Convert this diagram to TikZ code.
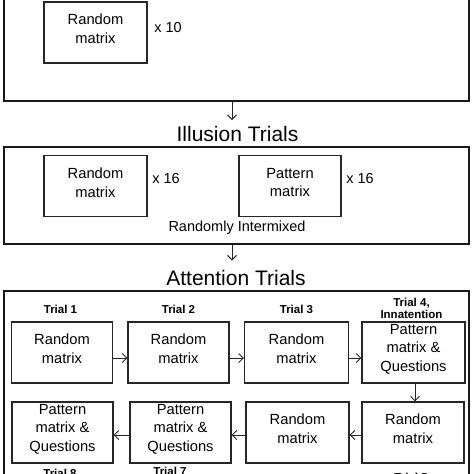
\documentclass[tikz,border=0pt]{standalone}
\usepackage{fontspec}
\setmainfont{Liberation Sans}
\usetikzlibrary{arrows.meta}
\newcommand\trialbox[5]{%
  \node[ibox, minimum width=#4] (#1) at (#2,#3) {};
  \node[btext] (#1t) at ([yshift=3.5pt]#1.center) {#5};}
\begin{document}
\begin{tikzpicture}[x=1pt,y=-1pt,
  outer/.style={draw=black!90, line width=1.8pt, minimum width=465pt, inner sep=0pt},
  ibox/.style={draw=black!85, line width=1.1pt, minimum height=61pt, inner sep=0pt},
  btext/.style={align=center, font=\fontsize{14.7}{18.6}\selectfont, inner sep=0pt},
  small/.style={font=\fontsize{14.5}{17}\selectfont, inner sep=0pt},
  title/.style={font=\fontsize{21}{24}\selectfont, inner sep=1pt},
  tlab/.style={font=\fontsize{11.5}{13}\selectfont\bfseries, align=center, inner sep=0pt},
  arr/.style={draw=black!85, line width=1pt, -{Straight Barb[length=4.5pt,width=9pt]}}]
\useasboundingbox (0,0) rectangle (474,474);
% ---------- top section ----------
\node[outer, minimum height=121pt] (pre) at (236.5,40.5) {};
\trialbox{b0}{95.5}{32.5}{103pt}{Random\\matrix}
\node[small] (x10) at (168,28) {x 10};
% ---------- illusion trials ----------
\node[title] (ilt) at (237.5,134) {Illusion Trials};
\node[outer, minimum height=97pt] (ill) at (236.5,195.5) {};
\trialbox{ir}{95.5}{186}{103pt}{Random\\matrix}
\node[small] (x16a) at (166,179) {x 16};
\trialbox{ip}{290}{186}{102pt}{Pattern\\matrix}
\node[small] (x16b) at (360,179) {x 16};
\node[small] (mix) at (237,228) {Randomly Intermixed};
\draw[arr] ([xshift=-4.5pt]pre.south) -- ([xshift=-5.5pt,yshift=5pt]ilt.north);
% ---------- attention trials ----------
\node[title] (att) at (236,277.5) {Attention Trials};
\draw[arr] ([xshift=-4.5pt]ill.south) -- ([xshift=-4pt,yshift=8pt]att.north);
\node[outer, minimum height=199pt] (atn) at (236.5,390.5) {};
\trialbox{t1}{62}{352.5}{101pt}{Random\\matrix}
\trialbox{t2}{178.5}{352.5}{101pt}{Random\\matrix}
\trialbox{t3}{296.5}{352.5}{104pt}{Random\\matrix}
\trialbox{t4}{413.5}{352.5}{103pt}{Pattern\\matrix \&\\Questions}
\trialbox{t5}{413}{432.5}{102pt}{Random\\matrix}
\trialbox{t6}{297.5}{432.5}{103pt}{Random\\matrix}
\trialbox{t7}{180.5}{432.5}{101pt}{Pattern\\matrix \&\\Questions}
\trialbox{t8}{62.5}{432.5}{101pt}{Pattern\\matrix \&\\Questions}
\node[tlab] (l1) at (60.5,309) {Trial 1};
\node[tlab] (l2) at (178.5,309) {Trial 2};
\node[tlab] (l3) at (296.5,309) {Trial 3};
\node[tlab] (l4) at (411.5,308.5) {Trial 4,\\[-1pt]Innatention};
\node[tlab] (l8) at (60,473) {Trial 8};
\node[tlab] (l7) at (170,471.5) {Trial 7};
\node[tlab] (l5) at (411,477) {Trial 5};
\draw[arr] ([yshift=-5.5pt]t1.east) -- ([yshift=-5.5pt]t2.west);
\draw[arr] ([yshift=-5.5pt]t2.east) -- ([yshift=-5.5pt]t3.west);
\draw[arr] ([yshift=-5.5pt]t3.east) -- ([yshift=-5.5pt]t4.west);
\draw[arr] ([xshift=1.5pt]t4.south) -- ([xshift=2pt]t5.north);
\draw[arr] ([yshift=-2.5pt]t5.west) -- ([yshift=-2.5pt]t6.east);
\draw[arr] ([yshift=-2.5pt]t6.west) -- ([yshift=-2.5pt]t7.east);
\draw[arr] ([yshift=-2.5pt]t7.west) -- ([yshift=-2.5pt]t8.east);
\end{tikzpicture}
\end{document}
